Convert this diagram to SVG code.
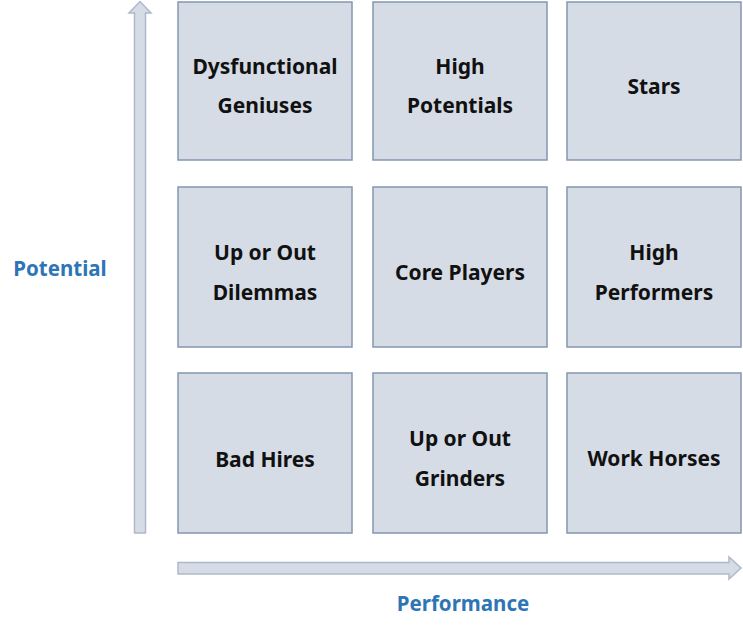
<svg xmlns="http://www.w3.org/2000/svg" width="743" height="629" viewBox="0 0 743 629">
<style>
.box{fill:#D6DCE5;stroke:#8497B0;stroke-width:1.5}
.t{font-family:"Noto Sans","Open Sans","Liberation Sans",sans-serif;font-weight:bold;font-size:21px;fill:#111;text-anchor:middle;dominant-baseline:central}
.ax{font-family:"Noto Sans","Open Sans","Liberation Sans",sans-serif;font-weight:bold;font-size:20.5px;fill:#2E75B6;text-anchor:middle;dominant-baseline:central}
.arr{fill:#D6DCE5;stroke:#ADB9CA;stroke-width:1.5}
</style>
<rect width="743" height="629" fill="#fff"/>
<g id="connectors">
<polygon class="arr" points="134.5,533 145.5,533 145.5,13 151,13 140,1.5 129,13 134.5,13"/>
<polygon class="arr" points="178,562.5 729,562.5 729,557 741,568 729,579 729,574 178,574"/>
</g>
<g id="dysfunctional-geniuses"><rect class="box" x="178" y="2" width="174" height="158"/><text class="t" x="265" y="66">Dysfunctional</text><text class="t" x="265" y="105">Geniuses</text></g>
<g id="high-potentials"><rect class="box" x="373" y="2" width="174" height="158"/><text class="t" x="460" y="66">High</text><text class="t" x="460" y="105">Potentials</text></g>
<g id="stars"><rect class="box" x="567" y="2" width="174" height="158"/><text class="t" x="654" y="86">Stars</text></g>
<g id="up-or-out-dilemmas"><rect class="box" x="178" y="187" width="174" height="160"/><text class="t" x="265" y="252">Up or Out</text><text class="t" x="265" y="292">Dilemmas</text></g>
<g id="core-players"><rect class="box" x="373" y="187" width="174" height="160"/><text class="t" x="460" y="272">Core Players</text></g>
<g id="high-performers"><rect class="box" x="567" y="187" width="174" height="160"/><text class="t" x="654" y="252">High</text><text class="t" x="654" y="292">Performers</text></g>
<g id="bad-hires"><rect class="box" x="178" y="373" width="174" height="160"/><text class="t" x="265" y="459">Bad Hires</text></g>
<g id="up-or-out-grinders"><rect class="box" x="373" y="373" width="174" height="160"/><text class="t" x="460" y="438">Up or Out</text><text class="t" x="460" y="478">Grinders</text></g>
<g id="work-horses"><rect class="box" x="567" y="373" width="174" height="160"/><text class="t" x="654" y="458">Work Horses</text></g>
<g id="axis-labels">
<text class="ax" x="60" y="268">Potential</text>
<text class="ax" x="463" y="603">Performance</text>
</g>
</svg>
